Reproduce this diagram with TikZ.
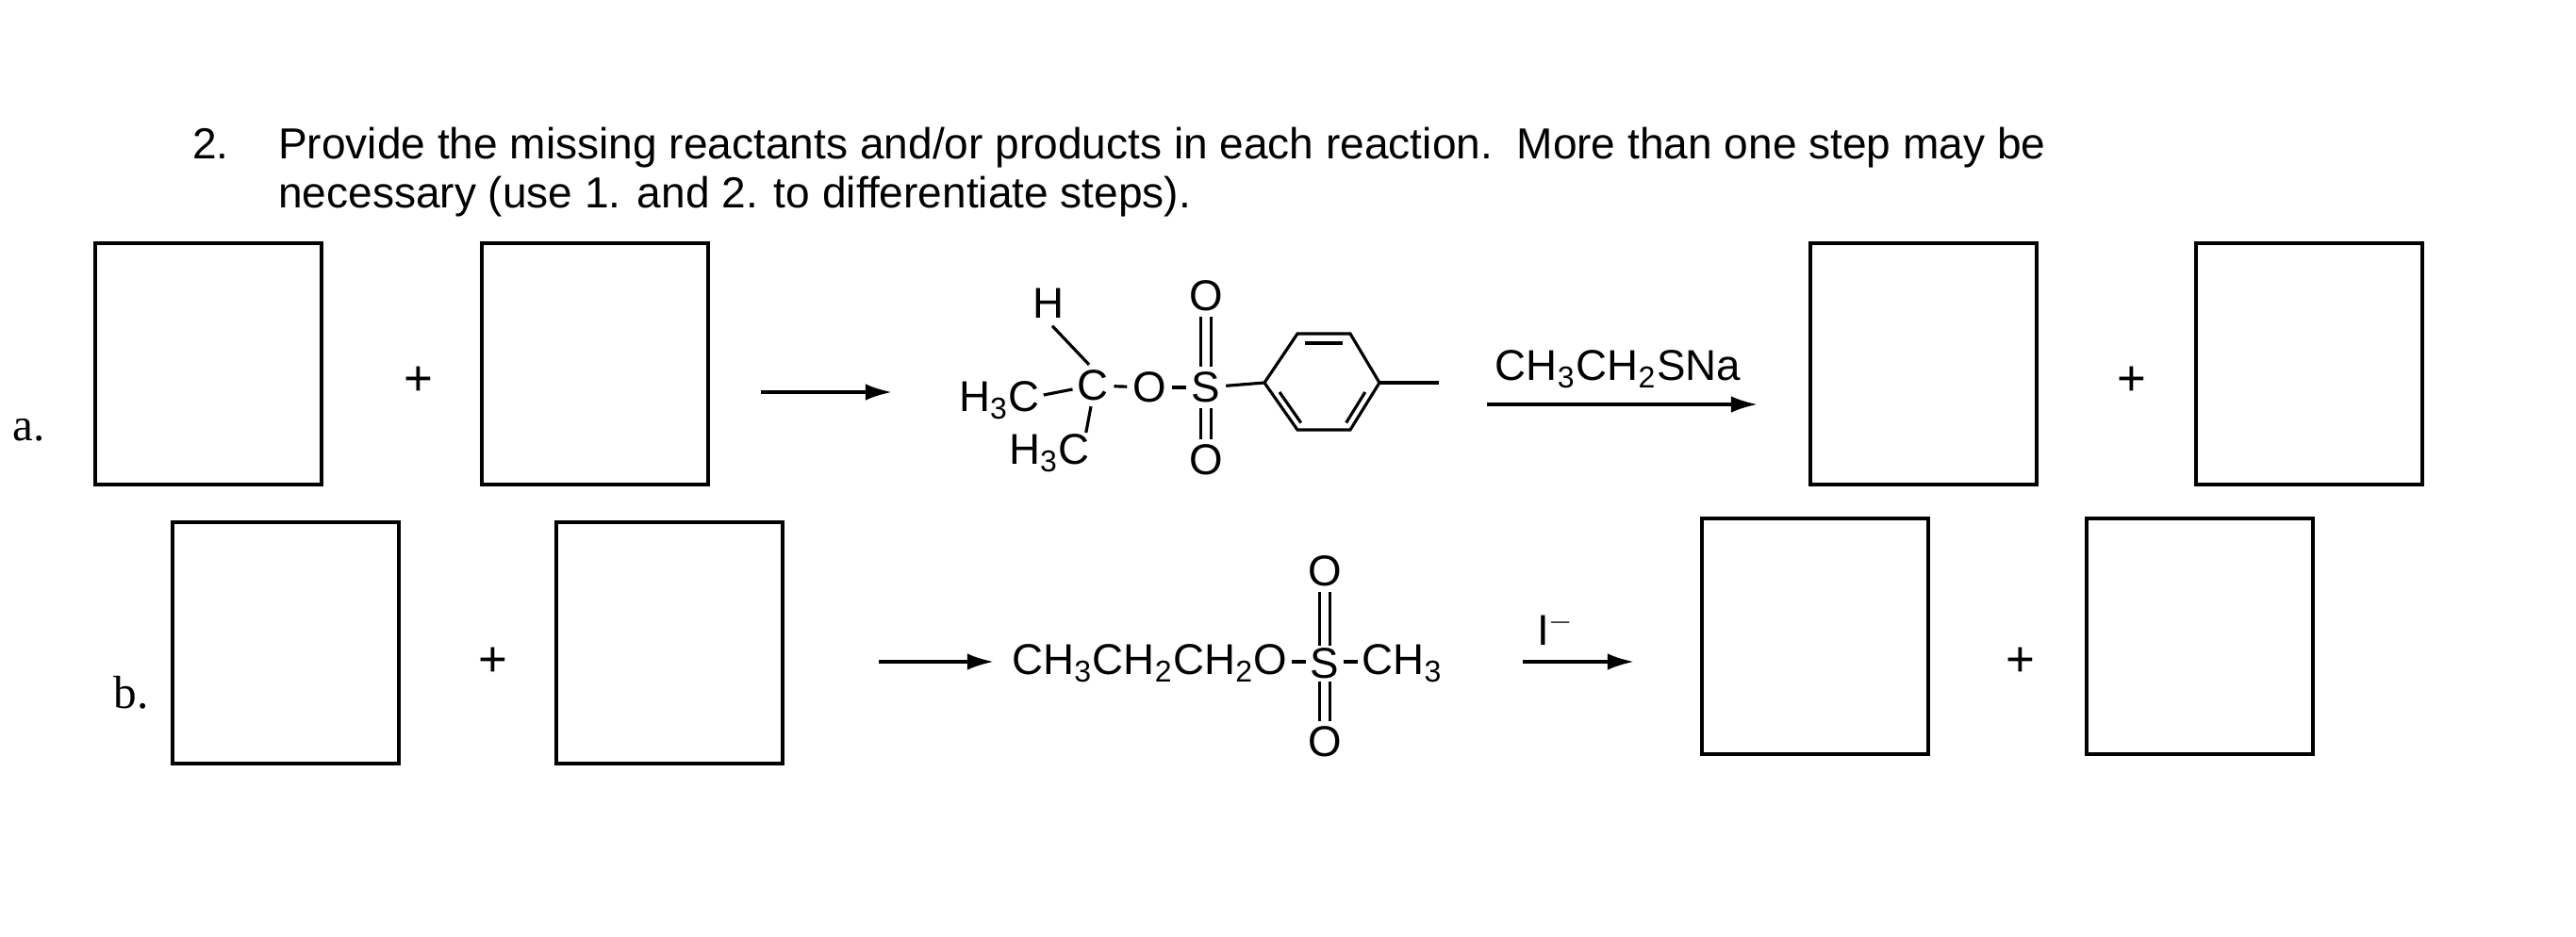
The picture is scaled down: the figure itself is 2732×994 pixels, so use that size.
\documentclass[tikz,border=0pt]{standalone}
\usepackage{fontspec}
\setmainfont{Liberation Sans}
\newfontfamily\serifa{Liberation Serif}
\usetikzlibrary{arrows.meta,calc}
\newcommand{\sbs}[1]{\textsubscript{#1}}
\begin{document}
\begin{tikzpicture}[x=0.01cm,y=-0.01cm,
 box/.style={draw,line width=1.3pt,minimum width=2.4cm,minimum height=2.56cm,inner sep=0},
 bbox/.style={draw,line width=1.3pt,minimum width=2.4cm,minimum height=2.5cm,inner sep=0},
 txt/.style={font=\fontsize{13.1}{15}\selectfont,inner sep=1pt},
 atom/.style={font=\fontsize{13}{15}\selectfont,inner sep=1.5pt},
 bond/.style={line width=0.9pt},
 rx/.style={line width=1pt,-{Latex[length=8pt,width=5pt]}},
 plus/.style={font=\fontsize{15}{16}\selectfont}]
\useasboundingbox (0,0) rectangle (2732,994);
% title
\node[txt,anchor=base west] (num) at (200,169) {2.};
\node[txt,anchor=base west,align=left] (t1) at (291,169) {Provide the missing reactants and/or products in each reaction.\ \ More than one step may be};
\node[txt,anchor=base west] (t2) at (291,221) {necessary (use 1. and 2. to differentiate steps).};
% row a
\node[font=\serifa\fontsize{14}{16}\selectfont] (la) at (31,456) {a.};
\node[box] (a1) at (221,386) {};
\node[box] (a2) at (631,386) {};
\node[box] (a3) at (2040,386) {};
\node[box] (a4) at (2449,386) {};
\node[plus] (pa1) at (444,404) {+};
\node[plus] (pa2) at (2261,404) {+};
\coordinate (aa1) at (807,416); \coordinate (aa2) at (946,416);
\draw[rx] (aa1) -- (aa2);
% molecule a
\node[atom] (H) at (1112,322) {H};
\node[atom] (C) at (1159,409) {C};
\node[atom] (Me1) at (1060,425) {H\sbs{3}C};
\node[atom] (Me2) at (1113,481) {H\sbs{3}C};
\node[atom] (O) at (1219,411) {O};
\node[atom] (S) at (1279,411) {S};
\node[atom] (Ot) at (1279,314) {O};
\node[atom] (Ob) at (1279,488) {O};
\coordinate (r1) at (1341,406); \coordinate (r2) at (1376,354); \coordinate (r3) at (1432,354);
\coordinate (r4) at (1463,406); \coordinate (r5) at (1432,456); \coordinate (r6) at (1376,456);
\coordinate (me) at (1526,406);
\draw[bond] (H.south) ++(4,2) -- ($(C.north)+(-4,0)$);
\draw[bond] ($(Me1.east)+(-2,-6)$) -- ($(C.west)+(1,4)$);
\draw[bond] ($(C.south)+(-2,0)$) -- ($(Me2.north east)+(-10,4)$);
\draw[bond] (C) -- (O); \draw[bond] (O) -- (S); \draw[bond] (S) -- (r1);
\draw[bond] ([xshift=-1.5pt]S.north) -- ([xshift=-1.5pt]Ot.south);
\draw[bond] ([xshift=1.5pt]S.north) -- ([xshift=1.5pt]Ot.south);
\draw[bond] ([xshift=-1.5pt]S.south) -- ([xshift=-1.5pt]Ob.north);
\draw[bond] ([xshift=1.5pt]S.south) -- ([xshift=1.5pt]Ob.north);
\draw[bond] (r1) -- (r2) -- (r3) -- (r4) -- (r5) -- (r6) -- cycle;
\draw[bond] (r4) -- (me);
\draw[bond] ($(r2)!0.15!(r3)+(0,10)$) -- ($(r2)!0.85!(r3)+(0,10)$);
\draw[bond] ($(r1)!0.2!(r6)+(9,0)$) -- ($(r1)!0.85!(r6)+(9,0)$);
\draw[bond] ($(r4)!0.2!(r5)+(-9,0)$) -- ($(r4)!0.85!(r5)+(-9,0)$);
\coordinate (ra1) at (1577,429); \coordinate (ra2) at (1864,429);
\draw[rx] (ra1) -- (ra2);
\node[atom] (rea) at (1716,392) {CH\sbs{3}CH\sbs{2}SNa};
% row b
\node[font=\serifa\fontsize{14}{16}\selectfont] (lb) at (139,735) {b.};
\node[box] (b1) at (303,682) {};
\node[box] (b2) at (710,682) {};
\node[bbox] (b3) at (1925,675) {};
\node[bbox] (b4) at (2333,675) {};
\node[plus] (pb1) at (523,702) {+};
\node[plus] (pb2) at (2143,702) {+};
\coordinate (ba1) at (932,702); \coordinate (ba2) at (1054,702);
\draw[rx] (ba1) -- (ba2);
\node[atom,anchor=east,inner sep=0.5pt] (chain) at (1368,704) {CH\sbs{3}CH\sbs{2}CH\sbs{2}O};
\node[atom,inner sep=0.5pt] (S2) at (1405,704) {S};
\node[atom,anchor=west,inner sep=0.5pt] (Me3) at (1442,704) {CH\sbs{3}};
\node[atom] (O2t) at (1405,606) {O};
\node[atom] (O2b) at (1405,787) {O};
\draw[bond] ($(chain.east)+(2,-2)$) -- ($(S2.west)+(-2,-2)$);
\draw[bond] ($(S2.east)+(2,-2)$) -- ($(Me3.west)+(-2,-2)$);
\draw[bond] ([xshift=-1.5pt]S2.north) -- ([xshift=-1.5pt]O2t.south);
\draw[bond] ([xshift=1.5pt]S2.north) -- ([xshift=1.5pt]O2t.south);
\draw[bond] ([xshift=-1.5pt]S2.south) -- ([xshift=-1.5pt]O2b.north);
\draw[bond] ([xshift=1.5pt]S2.south) -- ([xshift=1.5pt]O2b.north);
\node[atom] (Iion) at (1650,667) {I$^{-}$};
\coordinate (bb1) at (1615,702); \coordinate (bb2) at (1733,702);
\draw[rx] (bb1) -- (bb2);
\end{tikzpicture}
\end{document}
